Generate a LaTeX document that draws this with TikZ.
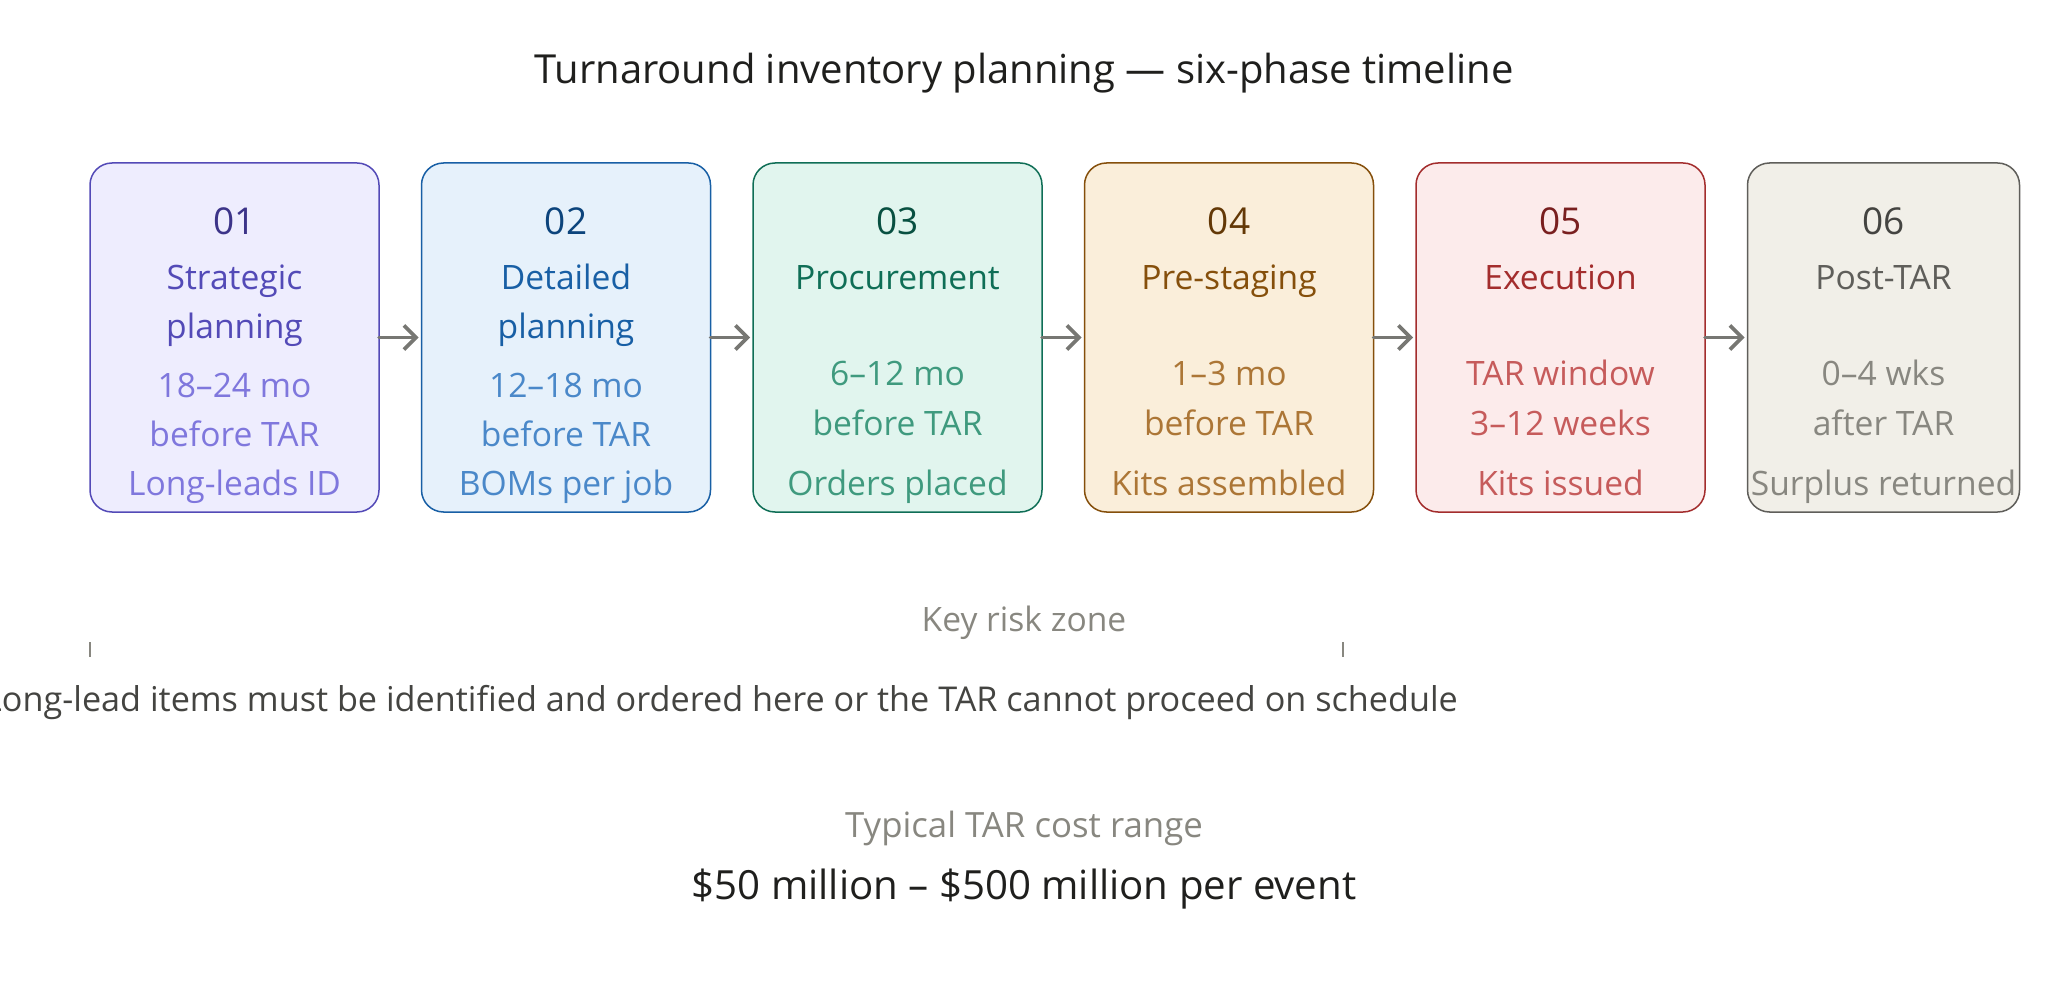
\documentclass[tikz,border=0pt]{standalone}
\usepackage{fontspec}
\setmainfont{Open Sans}
\usepackage{xcolor}
\usepackage{tikz}
\usetikzlibrary{positioning,arrows.meta}
\definecolor{inkdark}{HTML}{1F1F1D}
\definecolor{inkmid}{HTML}{444441}
\definecolor{inksoft}{HTML}{888780}
\definecolor{arrowgray}{HTML}{777773}
\definecolor{purpfill}{HTML}{EEEDFE}
\definecolor{purpedge}{HTML}{534AB7}
\definecolor{purpnum}{HTML}{3C3489}
\definecolor{purpsub}{HTML}{7F77DD}
\definecolor{bluefill}{HTML}{E6F1FB}
\definecolor{blueedge}{HTML}{185FA5}
\definecolor{bluenum}{HTML}{0C447C}
\definecolor{bluesub}{HTML}{4A88C9}
\definecolor{tealfill}{HTML}{E1F5EE}
\definecolor{tealedge}{HTML}{0F6E56}
\definecolor{tealnum}{HTML}{085041}
\definecolor{tealsub}{HTML}{3F9A7E}
\definecolor{ambfill}{HTML}{FAEEDA}
\definecolor{ambedge}{HTML}{854F0B}
\definecolor{ambnum}{HTML}{633806}
\definecolor{ambsub}{HTML}{AC7636}
\definecolor{redfill}{HTML}{FCEBEB}
\definecolor{rededge}{HTML}{A32D2D}
\definecolor{rednum}{HTML}{791F1F}
\definecolor{redsub}{HTML}{C65B5B}
\definecolor{grayfill}{HTML}{F1EFE8}
\definecolor{grayedge}{HTML}{5F5E5A}
\definecolor{graynum}{HTML}{444441}
\definecolor{graysub}{HTML}{888780}

\begin{document}
\begin{tikzpicture}[
  phase/.style={draw,rounded corners=11pt,line width=0.75pt,minimum width=144.5pt,minimum height=174.5pt,inner sep=0pt,outer sep=0pt},
  num/.style={anchor=base,inner sep=0pt,font=\fontsize{18.5}{22}\selectfont},
  txt/.style={anchor=base,inner sep=0pt,font=\fontsize{16.8}{20}\selectfont},
  arr/.style={-{Straight Barb[length=6pt,width=12pt]},line width=1.8pt,arrowgray,line cap=round,line join=round,shorten >=1.5pt},
  tick/.style={draw=inksoft,line width=0.75pt}
]
\useasboundingbox (0,0) rectangle (1024pt,-497pt);

\node[txt,font=\fontsize{20}{24}\selectfont,text=inkdark] (title) at (512pt,-42pt) {Turnaround inventory planning — six-phase timeline};

% phase boxes
\node[phase,fill=purpfill,draw=purpedge] (strat) at (117.25pt,-168.75pt) {};
\node[phase,fill=bluefill,draw=blueedge,right=21.25pt of strat] (detail) {};
\node[phase,fill=tealfill,draw=tealedge,right=21.25pt of detail] (proc) {};
\node[phase,fill=ambfill,draw=ambedge,right=21.25pt of proc] (prestage) {};
\node[phase,fill=redfill,draw=rededge,right=21.25pt of prestage] (exec) {};
\node[phase,fill=grayfill,draw=grayedge,minimum width=136pt,right=21.25pt of exec] (post) {};

\node[num,text=purpnum] (strat-n) at ([yshift=-36pt]strat.north) {01};
\node[txt,text=purpedge] (strat-t1) at ([yshift=-63.5pt]strat.north) {Strategic};
\node[txt,text=purpedge] (strat-t2) at ([yshift=-88pt]strat.north) {planning};
\node[txt,text=purpsub] (strat-d1) at ([yshift=-117pt]strat.north) {18–24 mo};
\node[txt,text=purpsub] (strat-d2) at ([yshift=-141.5pt]strat.north) {before TAR};
\node[txt,text=purpsub] (strat-d3) at ([yshift=-166pt]strat.north) {Long-leads ID};

\node[num,text=bluenum] (detail-n) at ([yshift=-36pt]detail.north) {02};
\node[txt,text=blueedge] (detail-t1) at ([yshift=-63.5pt]detail.north) {Detailed};
\node[txt,text=blueedge] (detail-t2) at ([yshift=-88pt]detail.north) {planning};
\node[txt,text=bluesub] (detail-d1) at ([yshift=-117pt]detail.north) {12–18 mo};
\node[txt,text=bluesub] (detail-d2) at ([yshift=-141.5pt]detail.north) {before TAR};
\node[txt,text=bluesub] (detail-d3) at ([yshift=-166pt]detail.north) {BOMs per job};

\node[num,text=tealnum] (proc-n) at ([yshift=-36pt]proc.north) {03};
\node[txt,text=tealedge] (proc-t1) at ([yshift=-63.5pt]proc.north) {Procurement};
\node[txt,text=tealsub] (proc-d1) at ([yshift=-111.5pt]proc.north) {6–12 mo};
\node[txt,text=tealsub] (proc-d2) at ([yshift=-136pt]proc.north) {before TAR};
\node[txt,text=tealsub] (proc-d3) at ([yshift=-166pt]proc.north) {Orders placed};

\node[num,text=ambnum] (prestage-n) at ([yshift=-36pt]prestage.north) {04};
\node[txt,text=ambedge] (prestage-t1) at ([yshift=-63.5pt]prestage.north) {Pre-staging};
\node[txt,text=ambsub] (prestage-d1) at ([yshift=-111.5pt]prestage.north) {1–3 mo};
\node[txt,text=ambsub] (prestage-d2) at ([yshift=-136pt]prestage.north) {before TAR};
\node[txt,text=ambsub] (prestage-d3) at ([yshift=-166pt]prestage.north) {Kits assembled};

\node[num,text=rednum] (exec-n) at ([yshift=-36pt]exec.north) {05};
\node[txt,text=rededge] (exec-t1) at ([yshift=-63.5pt]exec.north) {Execution};
\node[txt,text=redsub] (exec-d1) at ([yshift=-111.5pt]exec.north) {TAR window};
\node[txt,text=redsub] (exec-d2) at ([yshift=-136pt]exec.north) {3–12 weeks};
\node[txt,text=redsub] (exec-d3) at ([yshift=-166pt]exec.north) {Kits issued};

\node[num,text=graynum] (post-n) at ([yshift=-36pt]post.north) {06};
\node[txt,text=grayedge] (post-t1) at ([yshift=-63.5pt]post.north) {Post-TAR};
\node[txt,text=graysub] (post-d1) at ([yshift=-111.5pt]post.north) {0–4 wks};
\node[txt,text=graysub] (post-d2) at ([yshift=-136pt]post.north) {after TAR};
\node[txt,text=graysub] (post-d3) at ([yshift=-166pt]post.north) {Surplus returned};

\draw[arr] (strat) -- (detail); \draw[arr] (detail) -- (proc); \draw[arr] (proc) -- (prestage);
\draw[arr] (prestage) -- (exec); \draw[arr] (exec) -- (post);

% risk zone
\node[txt,text=inksoft] (risk) at (512pt,-315.5pt) {Key risk zone};
\draw[tick] (45pt,-321pt) -- (45pt,-328.5pt);
\draw[tick] (671.5pt,-321pt) -- (671.5pt,-328.5pt);
\node[txt,font=\fontsize{17.1}{20}\selectfont,text=inkmid] (risknote) at (360.5pt,-355.5pt) {Long-lead items must be identified and ordered here or the TAR cannot proceed on schedule};

% cost
\node[txt,font=\fontsize{17.4}{20}\selectfont,text=inksoft] (costlbl) at (512pt,-418.5pt) {Typical TAR cost range};
\node[txt,font=\fontsize{20.1}{24}\selectfont,text=inkdark] (cost) at (512pt,-449.5pt) {\$50 million – \$500 million per event};
\end{tikzpicture}
\end{document}
